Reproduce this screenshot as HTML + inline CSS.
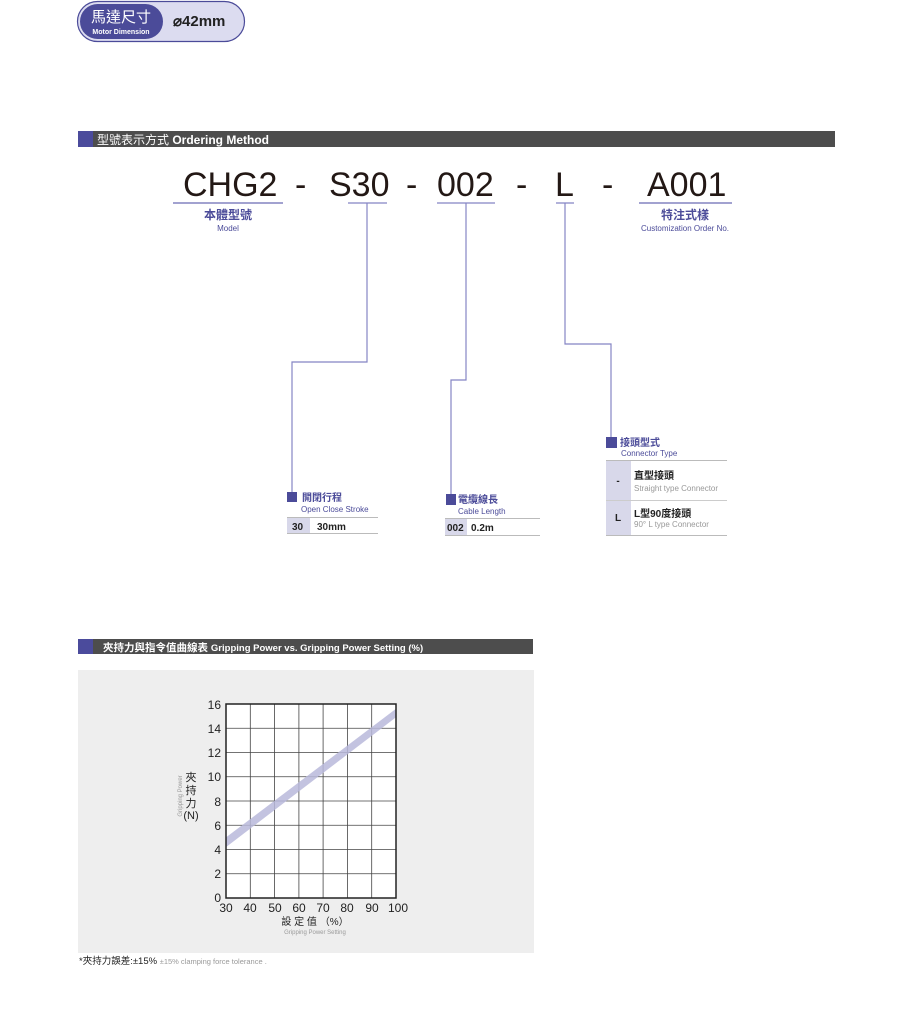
<!DOCTYPE html>
<html><head><meta charset="utf-8"><style>
html,body{margin:0;padding:0;background:#fff;}
svg{display:block;}
text{font-family:"Liberation Sans","Noto Sans CJK TC",sans-serif;}
</style></head><body>
<svg width="913" height="1024" viewBox="0 0 913 1024" xmlns="http://www.w3.org/2000/svg">
<rect x="77.5" y="1.5" width="167" height="40" rx="20" fill="#dcdcf0" stroke="#4b4b99" stroke-width="1.2"/>
<rect x="80" y="4" width="83" height="35" rx="17.5" fill="#4b4b99"/>
<text x="121" y="22" font-size="15" fill="#fff" text-anchor="middle">馬達尺寸</text>
<text x="121" y="34" font-size="7" font-weight="bold" fill="#fff" text-anchor="middle">Motor Dimension</text>
<text x="173" y="26" font-size="15" font-weight="bold" fill="#222">⌀42mm</text>

<rect x="78" y="131" width="757" height="16" fill="#4d4d4d"/>
<rect x="78" y="131" width="15" height="16" fill="#4b4b9c"/>
<text x="97" y="144" font-size="12" fill="#fff">型號表示方式 <tspan font-weight="bold">Ordering Method</tspan></text>

<g font-size="34" fill="#231815">
<text x="183" y="196">CHG2</text>
<text x="295" y="196">-</text>
<text x="329" y="196">S30</text>
<text x="406" y="196">-</text>
<text x="437" y="196">002</text>
<text x="516" y="196">-</text>
<text x="555" y="196">L</text>
<text x="602" y="196">-</text>
<text x="647" y="196">A001</text>
</g>
<g stroke="#8585c4" stroke-width="1.2" fill="none">
<line x1="173" y1="203" x2="283" y2="203" stroke="#6a6ab4"/>
<line x1="639" y1="203" x2="732" y2="203" stroke="#6a6ab4"/>
<line x1="348" y1="203" x2="387" y2="203"/>
<line x1="437" y1="203" x2="495" y2="203"/>
<line x1="556" y1="203" x2="574" y2="203"/>
<polyline points="367,203 367,362 292,362 292,493"/>
<polyline points="466,203 466,380 451,380 451,495"/>
<polyline points="565,203 565,344 611,344 611,438"/>
</g>
<text x="228" y="219" font-size="12" font-weight="bold" fill="#4b4b99" text-anchor="middle">本體型號</text>
<text x="228" y="231" font-size="8" fill="#4b4b99" text-anchor="middle">Model</text>
<text x="685" y="219" font-size="12" font-weight="bold" fill="#4b4b99" text-anchor="middle">特注式樣</text>
<text x="685" y="231" font-size="8" fill="#4b4b99" text-anchor="middle">Customization Order No.</text>

<rect x="287" y="492" width="10" height="10" fill="#4b4b99"/>
<text x="302" y="501" font-size="10" font-weight="bold" fill="#4b4b99">開閉行程</text>
<text x="301" y="512" font-size="8" fill="#4b4b99">Open Close Stroke</text>
<rect x="287" y="518" width="23" height="15" fill="#d8d8ea"/>
<line x1="287" y1="517.5" x2="378" y2="517.5" stroke="#bbb"/>
<line x1="287" y1="533.5" x2="378" y2="533.5" stroke="#bbb"/>
<text x="292" y="530" font-size="10" font-weight="bold" fill="#222">30</text>
<text x="317" y="530" font-size="10" font-weight="bold" fill="#222">30mm</text>

<rect x="446" y="494" width="10" height="11" fill="#4b4b99"/>
<text x="458" y="503" font-size="10" font-weight="bold" fill="#4b4b99">電纜線長</text>
<text x="458" y="514" font-size="8" fill="#4b4b99">Cable Length</text>
<rect x="445" y="519" width="22" height="16" fill="#d8d8ea"/>
<line x1="445" y1="518.5" x2="540" y2="518.5" stroke="#bbb"/>
<line x1="445" y1="535.5" x2="540" y2="535.5" stroke="#bbb"/>
<text x="447" y="531" font-size="10" font-weight="bold" fill="#222">002</text>
<text x="471" y="531" font-size="10" font-weight="bold" fill="#222">0.2m</text>

<rect x="606" y="437" width="11" height="11" fill="#4b4b99"/>
<text x="620" y="446" font-size="10" font-weight="bold" fill="#4b4b99">接頭型式</text>
<text x="621" y="456" font-size="8" fill="#4b4b99">Connector Type</text>
<rect x="606" y="461" width="25" height="74" fill="#d8d8ea"/>
<line x1="606" y1="460.5" x2="727" y2="460.5" stroke="#bbb"/>
<line x1="606" y1="500.5" x2="727" y2="500.5" stroke="#ccc"/>
<line x1="606" y1="535.5" x2="727" y2="535.5" stroke="#bbb"/>
<text x="618" y="484" font-size="10" font-weight="bold" fill="#222" text-anchor="middle">-</text>
<text x="618" y="521" font-size="10" font-weight="bold" fill="#222" text-anchor="middle">L</text>
<text x="634" y="479" font-size="10" font-weight="bold" fill="#222">直型接頭</text>
<text x="634" y="491" font-size="8" fill="#999">Straight type Connector</text>
<text x="634" y="517" font-size="10" font-weight="bold" fill="#222">L型90度接頭</text>
<text x="634" y="527" font-size="8" fill="#999">90° L type Connector</text>

<rect x="78" y="639" width="455" height="15" fill="#4d4d4d"/>
<rect x="78" y="639" width="15" height="15" fill="#4b4b9c"/>
<text x="103" y="651" font-size="10.5" font-weight="bold" fill="#fff">夾持力與指令值曲線表 <tspan font-size="9.5">Gripping Power vs. Gripping Power Setting (%)</tspan></text>

<rect x="78" y="670" width="456" height="283" fill="#eeeeee"/>
<rect x="226" y="704" width="170" height="194" fill="#fff"/>
<g stroke="#444" stroke-width="0.8">
<line x1="250.3" y1="704" x2="250.3" y2="898"/><line x1="274.6" y1="704" x2="274.6" y2="898"/>
<line x1="298.9" y1="704" x2="298.9" y2="898"/><line x1="323.1" y1="704" x2="323.1" y2="898"/>
<line x1="347.4" y1="704" x2="347.4" y2="898"/><line x1="371.7" y1="704" x2="371.7" y2="898"/>
<line x1="226" y1="728.25" x2="396" y2="728.25"/><line x1="226" y1="752.5" x2="396" y2="752.5"/>
<line x1="226" y1="776.75" x2="396" y2="776.75"/><line x1="226" y1="801" x2="396" y2="801"/>
<line x1="226" y1="825.25" x2="396" y2="825.25"/><line x1="226" y1="849.5" x2="396" y2="849.5"/>
<line x1="226" y1="873.75" x2="396" y2="873.75"/>
</g>
<polygon points="226,837.4 396,708.8 396,717.3 226,847.1" fill="#b8b8da" opacity="0.85"/>
<rect x="226" y="704" width="170" height="194" fill="none" stroke="#222" stroke-width="1.5"/>
<g font-size="12" fill="#222" text-anchor="end">
<text x="221" y="709">16</text><text x="221" y="733">14</text><text x="221" y="757">12</text>
<text x="221" y="781">10</text><text x="221" y="806">8</text><text x="221" y="830">6</text>
<text x="221" y="854">4</text><text x="221" y="878">2</text><text x="221" y="902">0</text>
</g>
<g font-size="12" fill="#222" text-anchor="middle">
<text x="226" y="912">30</text><text x="250" y="912">40</text><text x="275" y="912">50</text>
<text x="299" y="912">60</text><text x="323" y="912">70</text><text x="347" y="912">80</text>
<text x="372" y="912">90</text><text x="398" y="912">100</text>
</g>
<g font-size="11" fill="#222" text-anchor="middle">
<text x="191" y="781">夾</text><text x="191" y="794">持</text><text x="191" y="807">力</text><text x="191" y="819">(N)</text>
</g>
<text transform="translate(182,796) rotate(-90)" font-size="6" fill="#999" text-anchor="middle">Gripping Power</text>
<text x="315" y="925" font-size="10" fill="#222" text-anchor="middle">設 定 值 （%）</text>
<text x="315" y="934" font-size="6" fill="#999" text-anchor="middle">Gripping Power Setting</text>

<text x="79" y="964" font-size="9.5" fill="#222">*夾持力誤差:±15% <tspan font-size="7.5" fill="#999">±15% clamping force tolerance .</tspan></text>
</svg>
</body></html>
